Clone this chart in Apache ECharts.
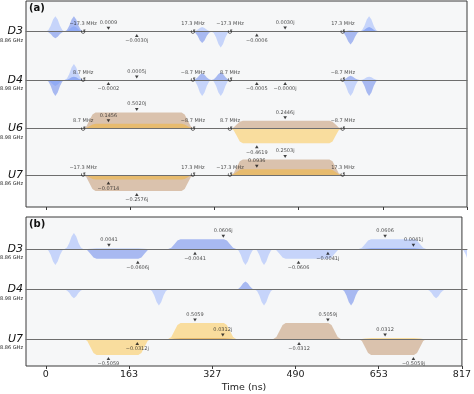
<!DOCTYPE html>
<html><head><meta charset="utf-8">
<script src="https://cdn.jsdelivr.net/npm/echarts@6/dist/echarts.min.js"></script>
<style>html,body{margin:0;padding:0;background:#fff}#c{width:474px;height:394px}</style>
</head><body><div id="c"></div>
<script>
// ---------------- data ----------------
// time axis ticks (ns)
const tickValues = [0, 163.4, 326.8, 490.2, 653.6, 817];
const tickLabels = ['0', '163', '327', '490', '653', '817'];

// shape profiles (fraction of peak amplitude)
const gaussProfile = [0, 0.1, 0.38, 0.78, 1, 0.78, 0.38, 0.1, 0];
const edgeProfile = [0, 0.12, 0.5, 0.88, 1];
const riseNs = 24;

// pulses: [start ns, end ns, shape ('g' gaussian / 's' gaussian-square), real amp, imag amp]
const d3aPulses = [[0,36,'g',0.1,-0.045],[36,72,'g',0.035,0.1],[72,287,'s',0.0009,-0.0030],[285,321,'g',0.03,-0.075],[321,357,'g',-0.105,0],[358,574,'s',-0.0006,0.0030],[573,609,'g',0.01,-0.085],[609,645,'g',0.1,0.03]];
const d4aPulses = [[0,36,'g',-0.035,-0.095],[36,72,'g',0.095,0.02],[72,287,'s',-0.0002,0.0005],[285,321,'g',-0.095,0.04],[321,357,'g',-0.095,0.045],[358,574,'s',-0.0005,-0.00001],[573,609,'g',-0.095,0.025],[609,645,'g',0.02,-0.095]];
const u6aPulses = [[72,287,'s',0.1456,0.5020],[358,574,'s',-0.4619,0.2446]];
const u7aPulses = [[72,287,'s',-0.0714,-0.2576],[358,574,'s',0.0936,0.2503]];
const d3bPulses = [[0,36,'g',-0.1,0],[36,72,'g',0.1,0],[74,203,'s',0.0041,-0.0606],[237,369,'s',-0.0041,0.0606],[369,405,'g',-0.1,0],[405,441,'g',-0.1,0],[441,572,'s',-0.0606,-0.0041],[607,738,'s',0.0606,0.0041],[806,842,'g',-0.1,0]];
const d4bPulses = [[36,72,'g',-0.055,0],[201,237,'g',-0.1,0],[369,405,'g',0,0.05],[405,441,'g',-0.1,0],[574,610,'g',0,-0.1],[739,775,'g',-0.055,0]];
const u7bPulses = [[74,203,'s',-0.5059,-0.0312],[237,369,'s',0.5059,0.0312],[441,572,'s',-0.0312,0.5059],[607,738,'s',0.0312,-0.5059]];

// amplitude annotations: [time ns, value, is imaginary]
const d3aNotes = [[121,0.0009,0],[176,-0.0030,1],[409,-0.0006,0],[464,0.0030,1]];
const d4aNotes = [[121,-0.0002,0],[176,0.0005,1],[409,-0.0005,0],[464,-0.00001,1]];
const u6aNotes = [[121,0.1456,0],[176,0.5020,1],[409,-0.4619,0],[464,0.2446,1]];
const u7aNotes = [[121,-0.0714,0],[176,-0.2576,1],[409,0.0936,0],[464,0.2503,1]];
const d3bNotes = [[122,0.0041,0],[178,-0.0606,1],[289,-0.0041,0],[344,0.0606,1],[490,-0.0606,0],[547,-0.0041,1],[658,0.0606,0],[713,0.0041,1]];
const d4bNotes = [];
const u7bNotes = [[121,-0.5059,0],[177,-0.0312,1],[289,0.5059,0],[343,0.0312,1],[491,-0.0312,0],[547,0.5059,1],[658,0.0312,0],[713,-0.5059,1]];

// frame changes: [time ns, frequency shift]
const fc17 = [[72,'\u221217.3 MHz'],[285,'17.3 MHz'],[357,'\u221217.3 MHz'],[576,'17.3 MHz']];
const fc87 = [[72,'8.7 MHz'],[285,'\u22128.7 MHz'],[357,'8.7 MHz'],[576,'\u22128.7 MHz']];

// ---------------- layout / style ----------------
const FONT = 'DejaVu Sans';
const T_MIN = -39, T_MAX = 817;
const LEFT = 26, WIDTH = 441, HALF = 24;
const panels = [
  {top: 1, height: 206, tag: '(a)', labels: false},
  {top: 217, height: 155, tag: '(b)', labels: true}
];
const palette = {
  D: {re: 'rgba(100,143,255,0.33)', im: 'rgba(60,100,230,0.42)'},
  U: {re: 'rgba(255,176,0,0.36)', im: 'rgba(153,74,0,0.30)'}
};
const channels = [
  {name:'D3', freq:'8.86 GHz', base:31.5, pulses:d3aPulses, notes:d3aNotes, frames:fc17, pal:'D'},
  {name:'D4', freq:'8.98 GHz', base:80, pulses:d4aPulses, notes:d4aNotes, frames:fc87, pal:'D'},
  {name:'U6', freq:'8.98 GHz', base:128.5, pulses:u6aPulses, notes:u6aNotes, frames:fc87, pal:'U'},
  {name:'U7', freq:'8.86 GHz', base:175, pulses:u7aPulses, notes:u7aNotes, frames:fc17, pal:'U'},
  {name:'D3', freq:'8.86 GHz', base:249, pulses:d3bPulses, notes:d3bNotes, frames:[], pal:'D'},
  {name:'D4', freq:'8.98 GHz', base:289.5, pulses:d4bPulses, notes:d4bNotes, frames:[], pal:'D'},
  {name:'U7', freq:'8.86 GHz', base:339, pulses:u7bPulses, notes:u7bNotes, frames:[], pal:'U'}
];

function shapePoints(p, amp) {
  const t0 = p[0], t1 = p[1];
  if (p[2] === 'g') {
    const n = gaussProfile.length - 1;
    return gaussProfile.map((f, k) => [t0 + (t1 - t0) * k / n, amp * f]);
  }
  const n = edgeProfile.length - 1;
  const up = edgeProfile.map((f, k) => [t0 + riseNs * k / n, amp * f]);
  const down = edgeProfile.slice().reverse().map((f, k) => [t1 - riseNs + riseNs * k / n, amp * f]);
  return up.concat(down);
}
function fmt(v, im) {
  const neg = v < 0;
  return (neg ? '\u2212' : '') + Math.abs(v).toFixed(4) + (im ? 'j' : '');
}
const DOWN_TRI = 'path://M0,0L10,0L5,8.5Z';

const grid = [], xAxis = [], yAxis = [], series = [], graphic = [];

panels.forEach((p, i) => {
  grid.push({left: LEFT, width: WIDTH, top: p.top, height: p.height, show: true,
    backgroundColor: '#f6f7f8', borderColor: '#3a3a3a', borderWidth: 1});
  xAxis.push({type: 'value', gridIndex: i, min: T_MIN, max: T_MAX,
    axisLine: {show: false}, splitLine: {show: false},
    axisTick: {show: true, customValues: tickValues, length: 3, lineStyle: {color: '#3a3a3a'}},
    axisLabel: {show: p.labels, customValues: tickValues, margin: 4, fontSize: 9.5, color: '#222', fontFamily: FONT,
      formatter: v => { const k = tickValues.indexOf(v); return k >= 0 ? tickLabels[k] : String(Math.round(v)); }},
    name: p.labels ? 'Time (ns)' : '', nameLocation: 'middle', nameGap: 17,
    nameTextStyle: {fontSize: 9.5, color: '#222', fontFamily: FONT}});
  yAxis.push({type: 'value', gridIndex: i, show: false, min: 0, max: 1});
  graphic.push({type: 'text', x: 29, y: p.top + 2, style: {text: p.tag, font: 'bold 10px "DejaVu Sans"', fill: '#111'}});
});

channels.forEach((c, k) => {
  const gi = panels.length + k;
  grid.push({left: LEFT, width: WIDTH, top: c.base - HALF, height: 2 * HALF, show: false});
  xAxis.push({type: 'value', gridIndex: gi, min: T_MIN, max: T_MAX, z: 5,
    axisLine: {show: true, onZero: true, lineStyle: {color: '#6e6e6e', width: 1}},
    axisTick: {show: false}, axisLabel: {show: false}, splitLine: {show: false}});
  let m = 0;
  c.pulses.forEach(p => { m = Math.max(m, Math.abs(p[3]), Math.abs(p[4])); });
  yAxis.push({type: 'value', gridIndex: gi, min: -1.5 * m, max: 1.5 * m, show: false});

  const pal = palette[c.pal];
  c.pulses.forEach(p => {
    [['im', 4], ['re', 3]].forEach(([key, idx]) => {
      series.push({type: 'line', xAxisIndex: gi, yAxisIndex: gi, data: shapePoints(p, p[idx]),
        symbol: 'none', showSymbol: false, lineStyle: {width: 0, opacity: 0},
        areaStyle: {color: pal[key], opacity: 1}, silent: true, animation: false, z: 2});
    });
  });

  if (c.notes.length) {
    series.push({type: 'scatter', xAxisIndex: gi, yAxisIndex: gi, clip: false, silent: true, animation: false, z: 6,
      itemStyle: {color: '#111'},
      data: c.notes.map(n => {
        const up = n[1] >= 0;
        return {value: [n[0], n[1]],
          symbol: up ? DOWN_TRI : 'triangle', symbolSize: [3.6, 3],
          symbolOffset: [0, up ? -3 : 3.5],
          label: {show: true, position: up ? 'top' : 'bottom', distance: 1.5, formatter: fmt(n[1], n[2]),
            fontSize: 5, color: '#222', fontFamily: FONT}};
      })});
  }
  if (c.frames.length) {
    series.push({type: 'scatter', xAxisIndex: gi, yAxisIndex: gi, clip: false, silent: true, animation: false, z: 6,
      symbol: 'circle', symbolSize: 0.1, itemStyle: {color: 'rgba(0,0,0,0)'},
      data: c.frames.map(f => ({value: [f[0], 0],
        label: {show: true, position: 'top', distance: 5, formatter: f[1], fontSize: 5, color: '#222', fontFamily: FONT}}))});
    series.push({type: 'scatter', xAxisIndex: gi, yAxisIndex: gi, clip: false, silent: true, animation: false, z: 7,
      symbol: 'circle', symbolSize: 0.1, itemStyle: {color: 'rgba(0,0,0,0)'},
      data: c.frames.map(f => ({value: [f[0], 0],
        label: {show: true, position: 'inside', offset: [0, 0.8], formatter: '\u21BA', fontSize: 6.5, fontWeight: 'bold', color: '#222', fontFamily: FONT}}))});
  }
  graphic.push({type: 'text', x: 23, y: c.base, style: {text: c.name, font: 'italic 11px "DejaVu Sans"', fill: '#111', align: 'right', verticalAlign: 'middle'}});
  graphic.push({type: 'text', x: 23, y: c.base + 9, style: {text: c.freq, font: '5px "DejaVu Sans"', fill: '#222', align: 'right', verticalAlign: 'middle'}});
});

const chart = echarts.init(document.getElementById('c'), null, {renderer: 'canvas'});
chart.setOption({backgroundColor: '#ffffff', animation: false, grid, xAxis, yAxis, series, graphic});
</script>
</body></html>
